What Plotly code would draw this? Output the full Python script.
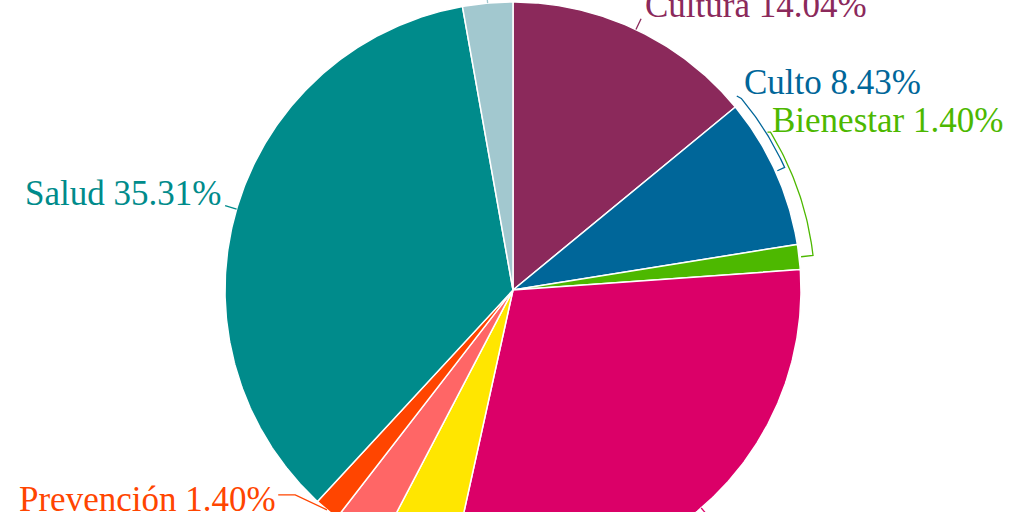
import numpy as np
import plotly.graph_objects as go

# ---- data ----
categories = ["Cultura", "Culto", "Bienestar", "Educación", "Deporte",
              "Medio ambiente", "Prevención", "Salud", "Otros"]
percent = [14.04, 8.43, 1.40, 29.59, 4.21, 2.81, 1.40, 35.31, 2.81]
colors = ["#8B295B", "#006699", "#4DB800", "#DB0068", "#FFE600",
          "#FF6666", "#FF4500", "#008B8B", "#A2C8CF"]

# ---- layout / style parameters ----
W, H = 1024, 512
CX, CY, R = 513, 290, 288
FONT = "Liberation Serif"
FSIZE = 35

label_style = {
    "Cultura": dict(kind="radial", r_out=300, side="left", dx=2, dy=-13),
    "Culto": dict(kind="arc", a0=50.0, r_arc=298, r_in=290, lead=(-4.5, -2.5),
                  side="left", dx=1, dy=-16),
    "Bienestar": dict(kind="arc", a0=58.5, r_arc=302, r_in=290, lead=(-3, 0),
                      side="left", dx=-1, dy=-11.5),
    "Educación": dict(kind="radial", r_out=300, side="left", dx=2, dy=12),
    "Deporte": dict(kind="radial", r_out=300, side="right", dx=-2, dy=12),
    "Medio ambiente": dict(kind="radial", r_out=300, side="right", dx=-2, dy=12),
    "Prevención": dict(kind="elbow", da=6.5, r_elbow=299, run=17, side="right",
                       dx=-0.5, dy=5),
    "Salud": dict(kind="radial", r_out=300, side="right", dx=-2, dy=-12),
    "Otros": dict(kind="radial", r_out=300, side="right", dx=-2, dy=-13),
}


def pt(theta_deg, r):
    t = np.radians(theta_deg)
    return CX + r * np.sin(t), CY - r * np.cos(t)


cum = np.concatenate([[0.0], np.cumsum(percent)])
cum = cum / cum[-1] * 360.0
starts, ends = cum[:-1], cum[1:]
mids = (starts + ends) / 2

fig = go.Figure()

# slices
for i, cat in enumerate(categories):
    n = max(int((ends[i] - starts[i]) * 2), 4)
    th = np.linspace(starts[i], ends[i], n)
    ax_, ay_ = pt(th, R)
    xs = np.concatenate([[CX], ax_, [CX]])
    ys = np.concatenate([[CY], ay_, [CY]])
    fig.add_trace(go.Scatter(x=xs, y=ys, mode="lines", fill="toself",
                             fillcolor=colors[i],
                             line=dict(color="white", width=1.5),
                             hoverinfo="skip", showlegend=False))

# leaders and labels
annotations = []
for i, cat in enumerate(categories):
    st = label_style[cat]
    col = colors[i]
    text = f"{cat} {percent[i]:.2f}%"
    if st["kind"] == "radial":
        x0, y0 = pt(mids[i], R)
        x1, y1 = pt(mids[i], st["r_out"])
        lx, ly = [x0, x1], [y0, y1]
        ax_x, ax_y = x1 + st["dx"], y1 + st["dy"]
    elif st["kind"] == "arc":
        th = np.linspace(st["a0"], mids[i], 40)
        arx, ary = pt(th, st["r_arc"])
        ix, iy = pt(mids[i], st["r_in"])
        sx, sy = arx[0] + st["lead"][0], ary[0] + st["lead"][1]
        lx = np.concatenate([[sx], arx, [ix]])
        ly = np.concatenate([[sy], ary, [iy]])
        ax_x, ax_y = arx[0] + st["dx"], ary[0] + st["dy"]
    else:  # elbow
        ex, ey = pt(mids[i] + st["da"], st["r_elbow"])
        px_, py_ = pt(mids[i], R)
        hx = ex - st["run"]
        lx, ly = [hx, ex, px_], [ey, ey, py_]
        ax_x, ax_y = hx + st["dx"], ey + st["dy"]
    fig.add_trace(go.Scatter(x=lx, y=ly, mode="lines",
                             line=dict(color=col, width=1.3),
                             hoverinfo="skip", showlegend=False))
    annotations.append(dict(x=ax_x, y=ax_y, xref="x", yref="y", text=text,
                            showarrow=False,
                            xanchor="left" if st["side"] == "left" else "right",
                            yanchor="middle",
                            font=dict(family=FONT, size=FSIZE, color=col)))

fig.update_layout(
    width=W, height=H,
    margin=dict(l=0, r=0, t=0, b=0),
    paper_bgcolor="white", plot_bgcolor="white",
    xaxis=dict(range=[0, W], visible=False, fixedrange=True),
    yaxis=dict(range=[H, 0], visible=False, fixedrange=True),
    annotations=annotations,
    showlegend=False,
)

fig.write_html(
    "out.html",
    config={"displayModeBar": False},
    post_script="document.body.style.margin='0';document.body.style.overflow='hidden';",
)
